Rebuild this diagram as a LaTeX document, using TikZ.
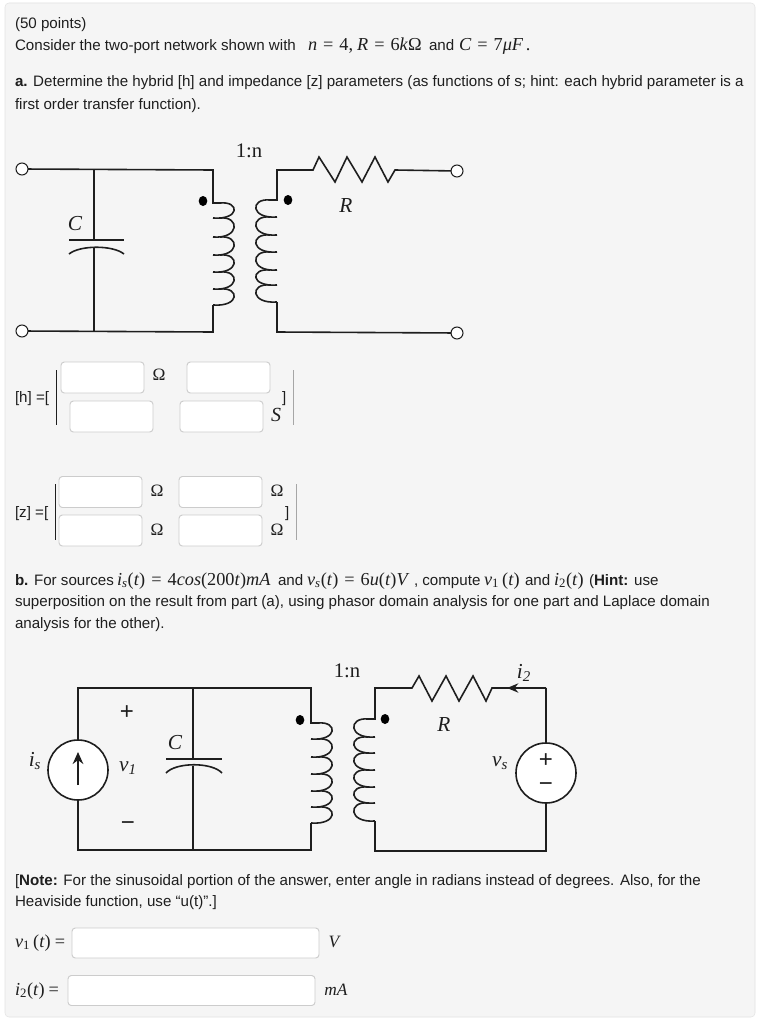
\documentclass[tikz,border=0pt]{standalone}
\usepackage[no-math]{fontspec}
\setmainfont{Liberation Sans}
\newfontfamily\timesf{Liberation Serif}
\usetikzlibrary{arrows.meta,shapes.geometric}
\definecolor{panelbg}{HTML}{F5F5F5}
\definecolor{panelline}{HTML}{E3E3E3}
\definecolor{boxline}{HTML}{CCCCCC}
\definecolor{ink}{HTML}{1E1E1E}
\tikzset{
  wire/.style={line width=1.2pt,draw=ink,line join=miter},
  thinrule/.style={line width=0.6pt,draw=ink},
  palerule/.style={line width=0.6pt,draw=black!35},
  txt/.style={anchor=base west,inner sep=0pt,outer sep=0pt,font=\fontsize{11.35}{13}\selectfont,text=ink},
  mth/.style={txt,font=\timesf\fontsize{13.7}{14}\selectfont},
  lbl/.style={inner sep=0pt,outer sep=0pt,font=\timesf\fontsize{13}{14}\selectfont,text=ink},
  ilbl/.style={lbl,font=\timesf\itshape\fontsize{16}{16}\selectfont},
  ratio/.style={lbl,font=\timesf\fontsize{15.5}{16}\selectfont},
  term/.style={circle,draw=ink,line width=0.8pt,fill=white,minimum size=9pt,inner sep=0pt,outer sep=0pt},
  src/.style={circle,draw=ink,line width=1.2pt,fill=white,minimum size=45pt,inner sep=0pt,outer sep=0pt},
  dotmark/.style={ellipse,fill=black,minimum width=6.5pt,minimum height=7.5pt,inner sep=0pt,outer sep=0pt},
  sign/.style={inner sep=0pt,outer sep=0pt,font=\fontsize{18}{18}\selectfont,text=ink},
  inbox/.style={rectangle,rounded corners=2.5pt,draw=boxline,line width=0.7pt,fill=white,inner sep=0pt,minimum width=62.25pt,minimum height=23.25pt},
  widebox/.style={inbox,minimum width=185.25pt,minimum height=22.5pt},
}
\newcommand{\coilpath}[3]{%
  \foreach \ya/\yb in {#3}{\draw[wire] (#1+#2*7,\ya) .. controls (#1+#2*27,\ya-2) and (#1+#2*27,\yb+2) .. (#1,\yb);}}
\newcommand{\sub}[1]{\textsubscript{\textit{#1}}}
\newcommand{\eqs}{\kern4.5pt=\kern4.5pt}
\begin{document}
\begin{tikzpicture}[x=0.75pt,y=-0.75pt]
\useasboundingbox (0,0) rectangle (762,1024);
\fill[white] (0,0) rectangle (762,1024);
\draw[panelline,fill=panelbg,rounded corners=3pt] (5,3) rectangle (755,1017);

% ---------- text ----------
\node[txt] (t1) at (15,29) {(50 points)};
\node[txt] (t2) at (15,51) {Consider the two-port network shown with};
\node[mth] (t2m) at (308,51) {\textit{n}\eqs 4,\kern3pt\textit{R}\eqs 6\textit{k}Ω};
\node[txt] (t2a) at (429,51) {and};
\node[mth] (t2n) at (459,51) {\textit{C}\eqs 7\textit{μF}\kern2pt.};
\node[txt] (t3) at (15,87) {\textbf{a.} Determine the hybrid [h] and impedance [z] parameters (as functions of s; hint: each hybrid parameter is a};
\node[txt] (t4) at (15,109) {first order transfer function).};
\node[txt] (t5) at (15,585) {\textbf{b.} For sources};
\node[mth] (t5a) at (117,585) {\textit{i}\sub{s}(\textit{t})\eqs 4\textit{cos}(200\textit{t})\textit{mA}};
\node[txt] (t5b) at (278,585) {and};
\node[mth] (t5c) at (307,585) {\textit{v}\sub{s}(\textit{t})\eqs 6\textit{u}(\textit{t})\textit{V}};
\node[txt] (t5d) at (414,585) {, compute};
\node[mth] (t5e) at (484,585) {\textit{v}\textsubscript{1}\,(\textit{t})};
\node[txt] (t5f) at (525,585) {and};
\node[mth] (t5g) at (554,585) {\textit{i}\textsubscript{2}(\textit{t})};
\node[txt] (t5h) at (589,585) {(\textbf{Hint:} use};
\node[txt] (t6) at (15,606) {superposition on the result from part (a), using phasor domain analysis for one part and Laplace domain};
\node[txt] (t7) at (15,628) {analysis for the other).};
\node[txt] (t8) at (15,885) {[\textbf{Note:} For the sinusoidal portion of the answer, enter angle in radians instead of degrees. Also, for the};
\node[txt] (t9) at (15,906) {Heaviside function, use “u(t)”.]};

% ---------- circuit a ----------
\node[term] (a1) at (22,169) {};
\node[term] (a2) at (22,331) {};
\node[term] (a3) at (457,171) {};
\node[term] (a4) at (457,333) {};
\coordinate (acapt) at (94,170);
\coordinate (acapb) at (94,332);
\coordinate (acap1) at (94,240);
\coordinate (acap2) at (94,247);
\coordinate (alt) at (213,170);
\coordinate (alu) at (213,203);
\coordinate (all) at (213,305);
\coordinate (alb) at (213,332);
\coordinate (art) at (277,170);
\coordinate (aru) at (277,200);
\coordinate (arl) at (277,302);
\coordinate (arb) at (277,332);
\coordinate (arz1) at (313,170);
\coordinate (arz2) at (395,170);
\draw[wire] (a1) -- (alt) -- (alu) -- (220,203);
\draw[wire] (a2) -- (alb) -- (all);
\draw[wire] (acapt) -- (acap1);
\draw[wire] (acap2) -- (acapb);
\draw[wire] (69,240) -- (124,240);
\draw[wire] (69,254) .. controls (80,245) and (113,245) .. (124,254);
\coilpath{213}{1}{203/218,218/237,237/255,255/272,272/289,289/305}
\coilpath{277}{-1}{200/217,217/235,235/252,252/270,270/285,285/302}
\draw[wire] (270,200) -- (aru) -- (art) -- (arz1) -- (319,157) -- (335,182) -- (347,157) -- (362,182) -- (375,157) -- (388,182) -- (arz2) -- (a3);
\draw[wire] (arl) -- (arb) -- (a4);
\node[dotmark] (adot1) at (203,201) {};
\node[dotmark] (adot2) at (288,200) {};
\node[ratio] (a1n) at (249,151) {1:n};
\node[ilbl] (aC) at (75,224) {C};
\node[ilbl] (aR) at (346,206) {R};

% ---------- [h] ----------
\node[txt] (hlab) at (15,402) {[h] =[};
\coordinate (hl1) at (56,370); \coordinate (hl2) at (56,425);
\coordinate (hr1) at (293,370); \coordinate (hr2) at (293,425);
\draw[thinrule] (hl1) -- (hl2);
\draw[palerule] (hr1) -- (hr2);
\node[inbox] (h11) at (102.5,377.5) {};
\node[inbox] (h12) at (228.5,377.5) {};
\node[inbox] (h21) at (111.5,416.5) {};
\node[inbox] (h22) at (221.5,416.5) {};
\node[lbl] (hO) at (159,375) {Ω};
\node[lbl,font=\timesf\itshape\fontsize{15}{15}\selectfont] (hS) at (276,415) {S};
\node[txt] (hb) at (282,402) {]};

% ---------- [z] ----------
\node[txt] (zlab) at (15,517) {[z] =[};
\coordinate (zl1) at (55,484); \coordinate (zl2) at (55,540);
\coordinate (zr1) at (296,484); \coordinate (zr2) at (296,540);
\draw[thinrule] (zl1) -- (zl2);
\draw[palerule] (zr1) -- (zr2);
\node[inbox] (z11) at (100.5,492) {};
\node[inbox] (z12) at (220.5,492) {};
\node[inbox] (z21) at (100.5,530.5) {};
\node[inbox] (z22) at (220.5,530.5) {};
\node[lbl] (zO1) at (157,491) {Ω};
\node[lbl] (zO2) at (277,491) {Ω};
\node[lbl] (zO3) at (157,530) {Ω};
\node[lbl] (zO4) at (277,530) {Ω};
\node[txt] (zb) at (285,517) {]};

% ---------- circuit b ----------
\node[src] (is) at (78,770) {};
\node[src] (vs) at (546,773) {};
\coordinate (bTL) at (78,688);
\coordinate (bBL) at (78,850);
\coordinate (bct) at (193,688);
\coordinate (bcb) at (193,850);
\coordinate (bc1) at (193,759);
\coordinate (bc2) at (193,766);
\coordinate (blt) at (311,688);
\coordinate (blu) at (311,723);
\coordinate (bll) at (311,823);
\coordinate (blb) at (311,850);
\coordinate (brt) at (375,688);
\coordinate (bru) at (375,719);
\coordinate (brl) at (375,821);
\coordinate (brb) at (375,851);
\coordinate (brz1) at (412,688);
\coordinate (brz2) at (492,688);
\coordinate (bTR) at (546,688);
\coordinate (bBR) at (546,851);
\coordinate (barr) at (507,688);
\draw[wire] (is) -- (bTL) -- (blt) -- (blu) -- (318,723);
\draw[wire] (is) -- (bBL) -- (blb) -- (bll);
\draw[wire] (bct) -- (bc1);
\draw[wire] (bc2) -- (bcb);
\draw[wire] (166,759) -- (222,759);
\draw[wire] (166,773) .. controls (176,762) and (212,762) .. (222,773);
\coilpath{311}{1}{723/739,739/757,757/774,774/791,791/807,807/823}
\coilpath{375}{-1}{719/737,737/753,753/770,770/787,787/803,803/821}
\draw[wire] (368,719) -- (bru) -- (brt) -- (brz1) -- (419,676) -- (432,701) -- (446,676) -- (459,701) -- (473,676) -- (486,701) -- (brz2) -- (bTR);
\draw[wire,-{Stealth[length=8.5pt,width=7pt]}] (bTR) -- (barr);
\draw[wire] (vs) -- (bTR);
\draw[wire] (vs) -- (bBR) -- (brb) -- (brl);
\coordinate (isa1) at (78,785);
\coordinate (isa2) at (78,752);
\draw[wire,-{Stealth[length=9pt,width=8pt]}] (isa1) -- (isa2);
\node[sign] (vsp) at (546,761) {+};
\node[sign] (vsm) at (546,787) {−};
\node[sign] (bp) at (127,713) {+};
\node[sign] (bm) at (128,826) {−};
\node[dotmark] (bdot1) at (300,720) {};
\node[dotmark] (bdot2) at (385,719) {};
\node[ratio] (b1n) at (347,671) {1:n};
\node[ilbl] (bC) at (175,743) {C};
\node[ilbl] (bR) at (444,725) {R};
\node[ilbl] (bv1) at (128,768) {v\textsubscript{1}};
\node[ilbl] (bis) at (35,761) {i\textsubscript{s}};
\node[ilbl] (bvs) at (500,763) {v\textsubscript{s}};
\node[ilbl] (bi2) at (524,673) {i\textsubscript{2}};

% ---------- answers ----------
\node[mth] (v1lab) at (15,947) {\textit{v}\textsubscript{1}\,(\textit{t})\kern3pt=};
\node[widebox] (v1box) at (195.5,943) {};
\node[lbl,font=\timesf\itshape\fontsize{13}{14}\selectfont] (v1u) at (334,942) {V};
\node[mth] (i2lab) at (15,995) {\textit{i}\textsubscript{2}(\textit{t})\kern3pt=};
\node[widebox] (i2box) at (191.5,990.5) {};
\node[lbl,font=\timesf\itshape\fontsize{13}{14}\selectfont] (i2u) at (336,990) {mA};
\end{tikzpicture}
\end{document}
